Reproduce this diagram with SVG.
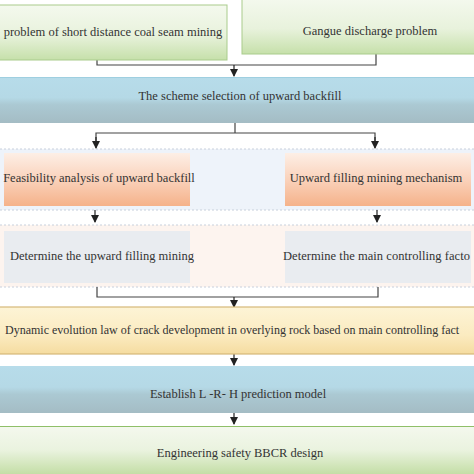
<svg xmlns="http://www.w3.org/2000/svg" width="474" height="474" viewBox="0 0 474 474">
<defs>
<linearGradient id="gGreen" x1="0" y1="0" x2="0" y2="1">
<stop offset="0" stop-color="#f4f9ee"/><stop offset="0.55" stop-color="#e8f2dc"/><stop offset="1" stop-color="#c6e0aa"/>
</linearGradient>
<linearGradient id="gBlue" x1="0" y1="0" x2="0" y2="1">
<stop offset="0" stop-color="#b7dcea"/><stop offset="0.45" stop-color="#b5d9e6"/><stop offset="0.6" stop-color="#abc9d3"/><stop offset="1" stop-color="#a4bcc4"/>
</linearGradient>
<linearGradient id="gOrange" x1="0" y1="0" x2="0" y2="1">
<stop offset="0" stop-color="#fdefe6"/><stop offset="0.5" stop-color="#fad2bb"/><stop offset="1" stop-color="#f5b28a"/>
</linearGradient>
<linearGradient id="gYellow" x1="0" y1="0" x2="0" y2="1">
<stop offset="0" stop-color="#fdf4d6"/><stop offset="0.6" stop-color="#fbebc0"/><stop offset="1" stop-color="#f5dca0"/>
</linearGradient>
<linearGradient id="gGreen2" x1="0" y1="0" x2="0" y2="1">
<stop offset="0" stop-color="#f4f8ee"/><stop offset="0.5" stop-color="#eaf3df"/><stop offset="1" stop-color="#c4dea6"/>
</linearGradient>
<marker id="arr" viewBox="0 0 8 8" refX="7" refY="4" markerWidth="8" markerHeight="8" markerUnits="userSpaceOnUse" orient="auto">
<path d="M0,0 L8,4 L0,8 z" fill="#222"/>
</marker>
</defs>
<style>
text{font-family:"Liberation Serif","Times New Roman",serif;font-size:12.5px;fill:#333;}
.c{text-anchor:middle;}
.ln{fill:none;stroke:#444;stroke-width:1.2;}
.ar{fill:none;stroke:#222;stroke-width:1.2;marker-end:url(#arr);}
.dot{fill:none;stroke:#c8d0dc;stroke-width:1;stroke-dasharray:2,2;}
</style>
<rect x="0" y="0" width="474" height="474" fill="#ffffff"/>

<g id="zone1">
<rect x="0" y="149" width="474" height="61" fill="#eef3fa"/>
<line class="dot" x1="0" y1="149" x2="474" y2="149"/>
<line class="dot" x1="0" y1="210" x2="474" y2="210"/>
</g>
<g id="zone2">
<rect x="0" y="225" width="474" height="62" fill="#fdf4ef"/>
<line class="dot" x1="0" y1="225" x2="474" y2="225"/>
<line class="dot" x1="0" y1="287" x2="474" y2="287"/>
</g>

<g id="connectors">
<polyline class="ln" points="97,60 97,65 376,65 376,54"/>
<line class="ar" x1="234" y1="65" x2="234" y2="76"/>
<line class="ln" x1="235" y1="123" x2="235" y2="133"/>
<polyline class="ln" points="96,147 96,133 375,133 375,147"/>
<line class="ar" x1="96" y1="137" x2="96" y2="148"/>
<line class="ar" x1="375" y1="137" x2="375" y2="148"/>
<line class="ar" x1="95" y1="210" x2="95" y2="222"/>
<line class="ar" x1="377" y1="210" x2="377" y2="222"/>
<polyline class="ln" points="97,287 97,297 378,297 378,287"/>
<line class="ar" x1="234" y1="297" x2="234" y2="307"/>
<line class="ar" x1="234" y1="354" x2="234" y2="365"/>
<line class="ar" x1="234" y1="413" x2="234" y2="424"/>
</g>

<g id="n-short">
<rect x="-2" y="5" width="229" height="55" fill="url(#gGreen)" stroke="#a9cc8c" stroke-width="1"/>
<text x="113" y="36" class="c">problem of short distance coal seam mining</text>
</g>
<g id="n-gangue">
<rect x="242" y="-2" width="234" height="56" fill="url(#gGreen)" stroke="#a9cc8c" stroke-width="1"/>
<text x="370" y="35" class="c">Gangue discharge problem</text>
</g>
<g id="n-scheme">
<rect x="0" y="77" width="474" height="46" fill="url(#gBlue)"/>
<line x1="0" y1="77.5" x2="474" y2="77.5" stroke="#9fcfe0" stroke-width="1"/>
<text x="240" y="100" class="c">The scheme selection of upward backfill</text>
</g>
<g id="n-feas">
<rect x="4" y="153" width="186" height="53" fill="url(#gOrange)"/>
<text x="99" y="182" class="c">Feasibility analysis of upward backfill</text>
</g>
<g id="n-mech">
<rect x="285" y="153" width="186" height="53" fill="url(#gOrange)"/>
<text x="376" y="182" class="c">Upward filling mining mechanism</text>
</g>
<g id="n-det1">
<rect x="4" y="231" width="186" height="52" fill="#e9ecf0"/>
<text x="102" y="260" class="c">Determine the upward filling mining</text>
</g>
<g id="n-det2">
<rect x="285" y="231" width="186" height="52" fill="#e9ecf0"/>
<text x="283" y="260" textLength="187" lengthAdjust="spacing">Determine the main controlling facto</text>
</g>
<g id="n-dyn">
<rect x="-2" y="307" width="478" height="47" fill="url(#gYellow)" stroke="#d6b878" stroke-width="1.2"/>
<text x="5" y="334" style="font-size:12px">Dynamic evolution law of crack development in overlying rock based on main controlling fact</text>
</g>
<g id="n-lrh">
<rect x="0" y="366" width="474" height="47" fill="url(#gBlue)"/>
<text x="238" y="398" class="c">Establish L -R- H prediction model</text>
</g>
<g id="n-bbcr">
<rect x="0" y="426" width="474" height="48" fill="url(#gGreen2)"/>
<line x1="0" y1="426.5" x2="474" y2="426.5" stroke="#8fbf68" stroke-width="1.2"/>
<text x="240" y="457" class="c">Engineering safety BBCR design</text>
</g>
</svg>
